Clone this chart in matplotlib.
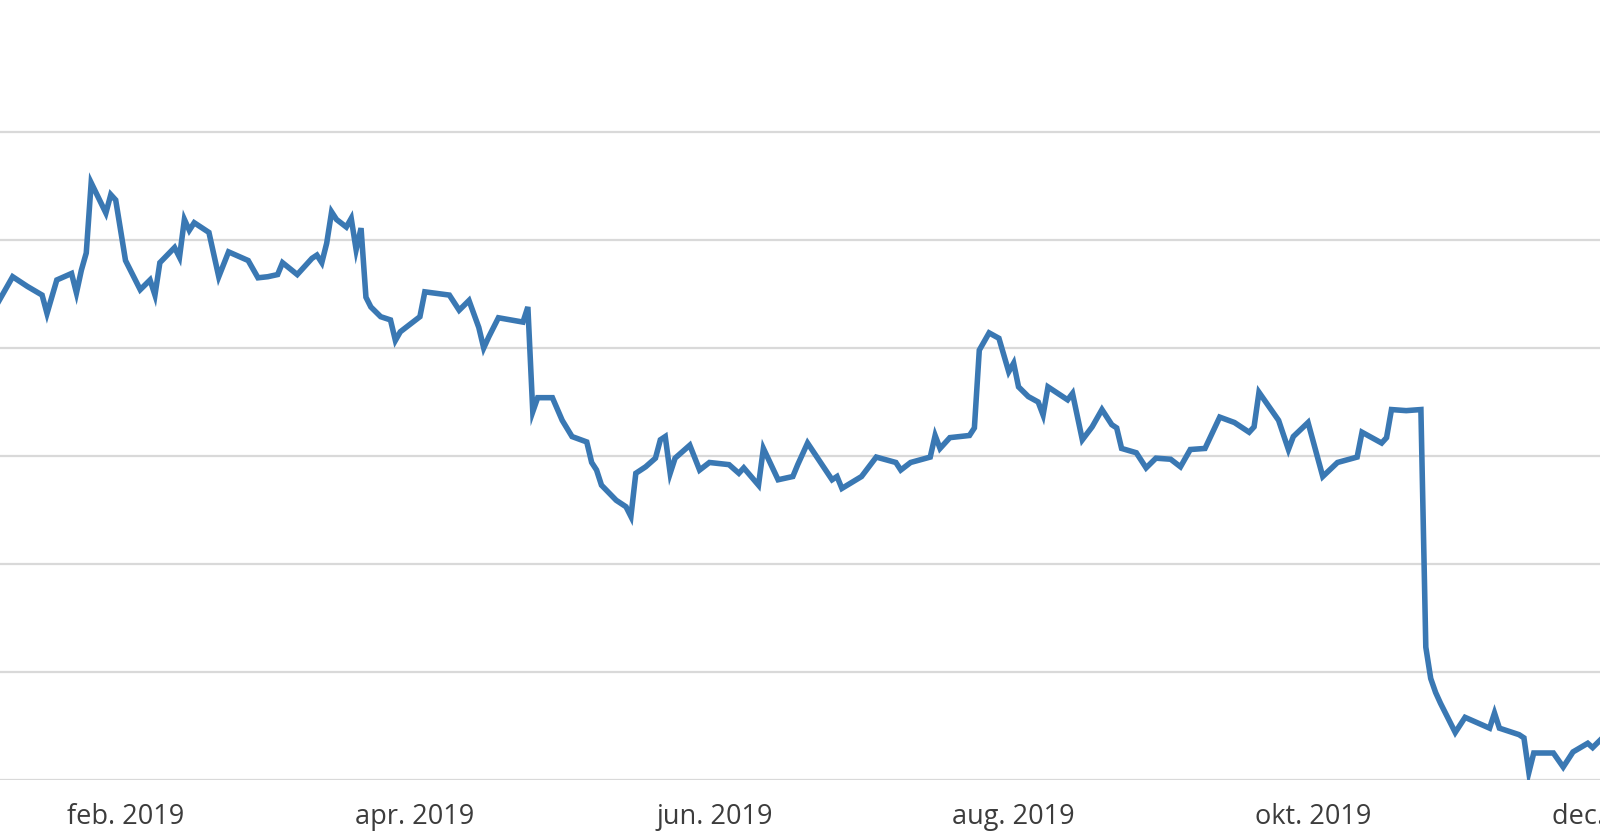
import matplotlib
matplotlib.use("Agg")
import matplotlib.pyplot as plt
import matplotlib.dates as mdates
import numpy as np

# day of year 2019 (0 = 1 Jan) and closing price
days = [4, 5, 8, 11, 14, 15, 17, 20, 21, 22, 23, 24, 27, 28, 29, 31, 34, 36, 37, 38,
        41, 42, 43, 44, 45, 48, 50, 52, 56, 58, 60, 62, 63, 66, 69, 70, 71, 72, 73, 74,
        76, 77, 78, 79, 80, 81, 83, 85, 86, 87, 91, 92, 97, 99, 101, 103, 104, 105, 107, 112,
        113, 114, 115, 118, 120, 122, 125, 126, 127, 128, 131, 133, 134, 135, 137, 139, 140, 141, 142, 143,
        146, 148, 150, 154, 156, 157, 160, 161, 164, 167, 168, 170, 175, 176, 177, 181, 184, 188, 189, 191,
        195, 196, 197, 199, 203, 204, 205, 207, 209, 211, 212, 213, 215, 217, 218, 219, 221, 223, 224, 226,
        228, 230, 232, 233, 234, 237, 239, 241, 244, 246, 248, 251, 254, 257, 260, 261, 262, 266, 268, 269,
        272, 275, 278, 282, 283, 287, 288, 289, 292, 295, 296, 297, 298, 299, 302, 304, 309, 310, 311, 315,
        316, 317, 318, 322, 324, 326, 329, 330, 332, 333]
price = [83.0, 84.2, 86.6, 85.7, 84.9, 83.2, 86.3, 86.9, 85.1, 87.2, 88.8, 95.3, 92.5, 94.2, 93.7, 88.1, 85.4, 86.3, 84.9, 87.9,
         89.3, 88.4, 91.9, 90.9, 91.6, 90.7, 86.6, 88.9, 88.1, 86.5, 86.6, 86.8, 87.9, 86.8, 88.3, 88.6, 87.9, 89.7, 92.6, 91.9,
         91.2, 92.0, 89.1, 91.1, 84.7, 83.8, 82.9, 82.6, 80.7, 81.5, 82.9, 85.2, 84.9, 83.5, 84.4, 81.9, 80.0, 81.0, 82.8, 82.4,
         83.8, 74.1, 75.4, 75.4, 73.3, 71.8, 71.3, 69.4, 68.7, 67.3, 65.9, 65.3, 64.4, 68.4, 69.0, 69.8, 71.5, 71.8, 68.4, 69.8,
         71.0, 68.7, 69.4, 69.2, 68.4, 68.9, 67.3, 70.7, 67.8, 68.1, 69.2, 71.2, 67.8, 68.1, 67.0, 68.1, 69.9, 69.4, 68.7, 69.4,
         69.9, 71.9, 70.7, 71.7, 71.9, 72.6, 79.8, 81.4, 80.9, 77.8, 78.6, 76.4, 75.5, 75.0, 73.8, 76.4, 75.8, 75.2, 75.8, 71.5,
         72.7, 74.3, 72.9, 72.6, 70.7, 70.3, 68.9, 69.8, 69.7, 69.0, 70.6, 70.7, 73.6, 73.1, 72.2, 72.7, 75.9, 73.3, 70.6, 71.8,
         73.1, 68.1, 69.4, 69.9, 72.2, 71.2, 71.7, 74.3, 74.2, 74.3, 52.3, 49.4, 48.1, 47.1, 44.4, 45.8, 44.8, 46.2, 44.8, 44.2,
         43.9, 40.7, 42.5, 42.5, 41.2, 42.6, 43.4, 43.0, 43.9, 44.2]

tick_dates = ["2019-02-01", "2019-04-01", "2019-06-01", "2019-08-01", "2019-10-01", "2019-12-01"]
tick_labels = ["feb. 2019", "apr. 2019", "jun. 2019", "aug. 2019", "okt. 2019", "dec. 2019"]
grid_levels = [40, 50, 60, 70, 80, 90, 100]

base = np.datetime64("2019-01-01")
dates = base + np.array(days).astype("timedelta64[D]")
x0 = mdates.date2num(base)

fig = plt.figure(figsize=(16, 8.36), dpi=100)
ax = fig.add_axes([0, 56 / 836, 1, 780 / 836])

ax.plot(dates, price, color="#3a78b3", linewidth=4, solid_joinstyle="miter", zorder=3)

ax.set_xlim(x0 + 5.42, x0 + 331.5)
ax.set_ylim(40, 40 + 780 / 10.8)
ax.set_yticks(grid_levels)
ax.grid(axis="y", color="#d9d9d9", linewidth=1.6)
ax.set_axisbelow(True)
ax.tick_params(left=False, bottom=False, labelleft=False, labelbottom=False)
for s in ax.spines.values():
    s.set_visible(False)

# last label runs off the right edge, as in the source
for d, lab in zip(tick_dates, tick_labels):
    ax.text(mdates.date2num(np.datetime64(d)), -37 / 780, lab,
            transform=ax.get_xaxis_transform(), ha="center", va="center",
            fontsize=19.5, family="Open Sans", color="#3c3c3c", clip_on=False)

fig.savefig("out.png", dpi=100)
